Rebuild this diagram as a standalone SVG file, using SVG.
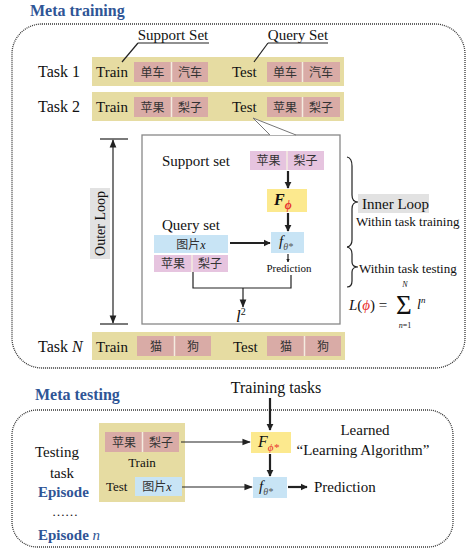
<svg xmlns="http://www.w3.org/2000/svg" width="474" height="553" viewBox="0 0 474 553">
<style>
.t{font-family:"Liberation Serif","DejaVu Serif",serif;fill:#111}
.cjk{font-family:"Noto Sans CJK SC","Noto Sans CJK JP",sans-serif;fill:#333;font-size:12px}
.ttl{font-family:"Liberation Serif","DejaVu Serif",serif;font-weight:bold;fill:#2f5596}
.band{fill:#e6dca2}
.pk{fill:#d9aba6}
.ip{fill:#e6c4df}
.bl{fill:#c8e4f5}
.yl{fill:#fce98e}
.dot{fill:none;stroke:#333;stroke-width:1.3;stroke-dasharray:1 1}
.ln{fill:none;stroke:#222;stroke-width:1.2}
.th{fill:none;stroke:#222;stroke-width:2.2}
.sep{stroke:#f4ece0;stroke-width:1.5}
</style>
<defs>
<marker id="ah" viewBox="0 0 10 10" refX="9" refY="5" markerWidth="3.2" markerHeight="3.2" orient="auto-start-reverse"><path d="M0,0 L10,5 L0,10 z" fill="#222"/></marker>
<marker id="as" viewBox="0 0 10 10" refX="9" refY="5" markerWidth="7" markerHeight="7" orient="auto-start-reverse"><path d="M0,1 L10,5 L0,9 z" fill="#222"/></marker>
</defs>

<!-- Meta training frame -->
<text class="ttl" x="30" y="16" font-size="16">Meta training</text>
<rect class="dot" x="12" y="24" width="453" height="344" rx="30"/>

<g id="labels-top">
<text class="t" x="173" y="40" font-size="15" text-anchor="middle">Support Set</text>
<text class="t" x="298" y="40" font-size="15" text-anchor="middle">Query Set</text>
</g>

<g id="task1">
<text class="t" x="38" y="77" font-size="16">Task 1</text>
<rect class="band" x="92" y="57" width="252" height="29"/>
<text class="t" x="96" y="77" font-size="15">Train</text>
<rect class="pk" x="134" y="62" width="74" height="20"/>
<line class="sep" x1="171.5" y1="62" x2="171.5" y2="82"/>
<text class="cjk" x="152.5" y="77" text-anchor="middle">单车</text>
<text class="cjk" x="190" y="77" text-anchor="middle">汽车</text>
<text class="t" x="232" y="77" font-size="15">Test</text>
<rect class="pk" x="267" y="62" width="73" height="20"/>
<line class="sep" x1="302.5" y1="62" x2="302.5" y2="82"/>
<text class="cjk" x="285" y="77" text-anchor="middle">单车</text>
<text class="cjk" x="321" y="77" text-anchor="middle">汽车</text>
</g>

<g id="task2">
<text class="t" x="38" y="112" font-size="16">Task 2</text>
<rect class="band" x="92" y="92" width="252" height="29"/>
<text class="t" x="96" y="112" font-size="15">Train</text>
<rect class="pk" x="134" y="97" width="74" height="20"/>
<line class="sep" x1="171.5" y1="97" x2="171.5" y2="117"/>
<text class="cjk" x="152.5" y="112" text-anchor="middle">苹果</text>
<text class="cjk" x="190" y="112" text-anchor="middle">梨子</text>
<text class="t" x="232" y="112" font-size="15">Test</text>
<rect class="pk" x="267" y="97" width="73" height="20"/>
<line class="sep" x1="302.5" y1="97" x2="302.5" y2="117"/>
<text class="cjk" x="285" y="112" text-anchor="middle">苹果</text>
<text class="cjk" x="321" y="112" text-anchor="middle">梨子</text>
</g>

<g id="taskN">
<text class="t" x="38" y="352" font-size="16">Task <tspan font-style="italic">N</tspan></text>
<rect class="band" x="92" y="332" width="253" height="28"/>
<text class="t" x="96" y="352" font-size="15">Train</text>
<rect class="pk" x="137" y="336" width="74" height="20"/>
<line class="sep" x1="174.5" y1="336" x2="174.5" y2="356"/>
<text class="cjk" x="156" y="351" text-anchor="middle">猫</text>
<text class="cjk" x="193" y="351" text-anchor="middle">狗</text>
<text class="t" x="233" y="352" font-size="15">Test</text>
<rect class="pk" x="267" y="336" width="74" height="20"/>
<line class="sep" x1="304.5" y1="336" x2="304.5" y2="356"/>
<text class="cjk" x="286" y="351" text-anchor="middle">猫</text>
<text class="cjk" x="323" y="351" text-anchor="middle">狗</text>
</g>

<!-- inner box -->
<g id="inner-box">
<rect x="142" y="135" width="198" height="189" fill="#fff" stroke="#888" stroke-width="1.3"/>
<polygon points="270,135 253,118 296,135" fill="#fff" stroke="none"/>
<polyline points="270,135 253,118 296,135" fill="none" stroke="#777" stroke-width="1"/>
</g>

<g id="outer-loop">
<line class="ln" x1="100" y1="139" x2="128" y2="139"/>
<line class="ln" x1="100" y1="324" x2="128" y2="324"/>
<line x1="113" y1="140" x2="113" y2="323" stroke="#222" stroke-width="1.2" marker-start="url(#as)" marker-end="url(#as)"/>
<rect x="90" y="188" width="20" height="71" fill="#e2e2e2"/>
<text class="t" x="0" y="0" font-size="14" text-anchor="middle" transform="translate(105,223.5) rotate(-90)">Outer Loop</text>
</g>

<g id="support-set">
<text class="t" x="162" y="166" font-size="15">Support set</text>
<rect class="ip" x="250" y="151" width="74" height="19"/>
<line class="sep" x1="287" y1="151" x2="287" y2="170"/>
<text class="cjk" x="268.5" y="165" text-anchor="middle">苹果</text>
<text class="cjk" x="305.5" y="165" text-anchor="middle">梨子</text>
</g>

<g id="F-phi">
<rect class="yl" x="267" y="189" width="40" height="23"/>
<text class="t" x="274" y="205" font-size="16" font-style="italic" font-weight="bold">F<tspan font-size="12" dy="4" fill="#e8322e">ϕ</tspan></text>
</g>

<g id="f-theta">
<rect class="bl" x="271" y="232" width="33" height="21"/>
<text class="t" x="279" y="246" font-size="15" font-style="italic">f<tspan font-size="10" dy="4" fill="#555">θ*</tspan></text>
</g>

<text class="t" x="289" y="272" font-size="11" text-anchor="middle">Prediction</text>

<g id="query-set">
<text class="t" x="162" y="230" font-size="15">Query set</text>
<rect class="bl" x="154" y="235" width="74" height="18"/>
<text class="cjk" x="191" y="249" text-anchor="middle" font-size="11">图片<tspan class="t" font-style="italic" font-size="12" fill="#333">x</tspan></text>
<rect class="ip" x="154" y="255" width="74" height="17"/>
<line class="sep" x1="192" y1="255" x2="192" y2="272"/>
<text class="cjk" x="173" y="268" text-anchor="middle">苹果</text>
<text class="cjk" x="210" y="268" text-anchor="middle">梨子</text>
</g>

<text class="t" x="236" y="322" font-size="17" font-style="italic">l<tspan font-size="10" dy="-7" font-style="normal">2</tspan></text>

<g id="braces">
<path class="ln" d="M347,157 Q352,158 352,166 L352,195 Q352,202 358,202 Q352,202 352,209 L352,240 Q352,246 347,247"/>
<path class="ln" d="M347,247 Q352,248 352,254 L352,262 Q352,267 358,267 Q352,267 352,272 L352,281 Q352,287 347,287"/>
<rect x="358" y="194" width="71" height="19" fill="#e2e2e2"/>
<text class="t" x="362" y="209" font-size="15">Inner Loop</text>
<text class="t" x="356" y="226" font-size="13">Within task training</text>
<text class="t" x="359" y="273" font-size="13">Within task testing</text>
</g>

<g id="loss">
<text class="t" x="349" y="310" font-size="15" font-style="italic">L<tspan font-style="normal">(</tspan><tspan fill="#e8322e">ϕ</tspan><tspan font-style="normal">) =</tspan></text>
<text class="t" x="396" y="314" font-size="27">Σ</text>
<text class="t" x="405" y="287" font-size="8" font-style="italic" text-anchor="middle">N</text>
<text class="t" x="405" y="328" font-size="8" text-anchor="middle"><tspan font-style="italic">n</tspan>=1</text>
<text class="t" x="417" y="309" font-size="14" font-style="italic">l<tspan font-size="9" dy="-6">n</tspan></text>
</g>

<!-- Meta testing -->
<text class="ttl" x="35" y="400" font-size="16">Meta testing</text>
<text class="t" x="276" y="393" font-size="16" text-anchor="middle">Training tasks</text>
<rect class="dot" x="12" y="410" width="441" height="137" rx="25"/>

<g id="testing-task">
<text class="t" x="35" y="457" font-size="15">Testing</text>
<text class="t" x="62" y="478" font-size="15" text-anchor="middle">task</text>
<text class="ttl" x="38" y="497" font-size="15">Episode</text>
<text class="t" x="65" y="516" font-size="13" text-anchor="middle">……</text>
<text class="ttl" x="38" y="540" font-size="15">Episode <tspan font-style="italic" font-weight="normal">n</tspan></text>
</g>

<g id="episode-box">
<rect class="band" x="99" y="423" width="86" height="79"/>
<rect class="pk" x="105" y="432" width="74" height="20"/>
<line class="sep" x1="142.5" y1="432" x2="142.5" y2="452"/>
<text class="cjk" x="124" y="447" text-anchor="middle">苹果</text>
<text class="cjk" x="161" y="447" text-anchor="middle">梨子</text>
<text class="t" x="142" y="467" font-size="13" text-anchor="middle">Train</text>
<text class="t" x="106" y="491" font-size="13">Test</text>
<rect class="bl" x="135" y="477" width="47" height="19"/>
<text class="cjk" x="157" y="491" text-anchor="middle" font-size="11">图片<tspan class="t" font-style="italic" font-size="12" fill="#333">x</tspan></text>
</g>

<g id="F-phi-star">
<rect class="yl" x="251" y="432" width="40" height="21"/>
<text class="t" x="258" y="447" font-size="16" font-style="italic">F<tspan font-size="11" dy="4" fill="#e8322e">ϕ*</tspan></text>
</g>

<g id="f-theta-star">
<rect class="bl" x="253" y="477" width="34" height="21"/>
<text class="t" x="259" y="491" font-size="15" font-style="italic">f<tspan font-size="10" dy="4" fill="#555">θ*</tspan></text>
</g>

<text class="t" x="365" y="435" font-size="15" text-anchor="middle">Learned</text>
<text class="t" x="363" y="455" font-size="15" text-anchor="middle">“Learning Algorithm”</text>
<text class="t" x="314" y="492" font-size="15">Prediction</text>

<g id="connectors">
<line class="ln" x1="122" y1="62" x2="138" y2="43"/>
<line class="ln" x1="138" y1="43" x2="209" y2="43"/>
<line class="ln" x1="254" y1="62" x2="268" y2="43"/>
<line class="ln" x1="268" y1="43" x2="328" y2="43"/>
<line class="th" x1="288" y1="171" x2="288" y2="188" marker-end="url(#ah)"/>
<line class="th" x1="288" y1="213" x2="288" y2="231" marker-end="url(#ah)"/>
<line class="th" x1="230" y1="243" x2="270" y2="243" marker-end="url(#ah)"/>
<line class="ln" x1="288" y1="254" x2="288" y2="262" stroke-width="2" marker-end="url(#ah)"/>
<polyline class="ln" points="291,275 291,288 193,288 193,272"/>
<line class="ln" x1="243" y1="288" x2="243" y2="307" marker-end="url(#as)"/>
<line class="th" x1="270" y1="398" x2="270" y2="430" stroke-width="3" marker-end="url(#ah)"/>
<line class="ln" x1="181" y1="442" x2="250" y2="442" marker-end="url(#as)"/>
<line class="ln" x1="182" y1="487" x2="252" y2="487" marker-end="url(#as)"/>
<line class="th" x1="270" y1="454" x2="270" y2="476" marker-end="url(#ah)"/>
<line class="th" x1="288" y1="487" x2="307" y2="487" marker-end="url(#ah)"/>
</g>
</svg>
